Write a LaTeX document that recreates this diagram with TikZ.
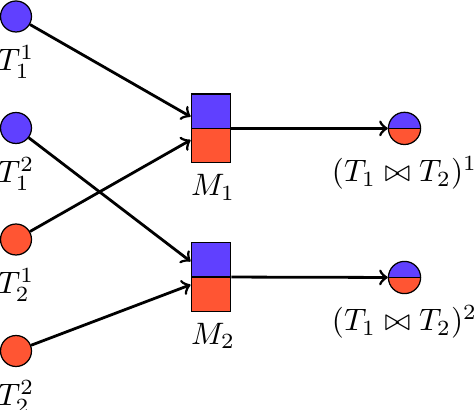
\documentclass[tikz,border=0pt]{standalone}
\definecolor{jblue}{RGB}{96,64,255}
\definecolor{jred}{RGB}{255,85,51}
\begin{document}
\begin{tikzpicture}[x=0.3226pt,y=-0.3226pt,
  halves/.style={path picture={
    \fill[jblue] (path picture bounding box.north west) rectangle (path picture bounding box.east);
    \fill[jred] (path picture bounding box.west) rectangle (path picture bounding box.south east);
    \draw (path picture bounding box.west) -- (path picture bounding box.east);
  }},
  src/.style={circle, draw, inner sep=0pt, minimum size=10pt},
  mbox/.style={rectangle, draw, inner sep=0pt, minimum width=12.8pt, minimum height=22.2pt, halves},
  res/.style={circle, draw, inner sep=0pt, minimum size=10.4pt, halves},
  conn/.style={->, line width=0.9pt}
]
\useasboundingbox (0,0) rectangle (474,410);
\node[src, fill=jblue] (t11) at (16,16.5) {};
\node[src, fill=jblue] (t12) at (16,128) {};
\node[src, fill=jred] (t21) at (16,239.5) {};
\node[src, fill=jred] (t22) at (16,351) {};
\node[mbox] (m1) at (211,128.4) {};
\node[mbox] (m2) at (211,277) {};
\node[res] (r1) at (404.5,128.4) {};
\node[res] (r2) at (404.5,277.5) {};
\node (lt11) at (16,62) {$T_1^1$};
\node (lt12) at (16,174) {$T_1^2$};
\node (lt21) at (16,285) {$T_2^1$};
\node (lt22) at (16,397) {$T_2^2$};
\node (lm1) at (213,187.5) {$M_1$};
\node (lm2) at (213,336) {$M_2$};
\node (lr1) at (404.5,173) {$(T_1\bowtie T_2)^1$};
\node (lr2) at (404.5,322) {$(T_1\bowtie T_2)^2$};
\draw[conn] (t11) -- (m1);
\draw[conn] (t21) -- (m1);
\draw[conn] (t12) -- (m2);
\draw[conn] (t22) -- (m2);
\draw[conn] (m1) -- (r1);
\draw[conn] (m2) -- (r2);
\end{tikzpicture}
\end{document}
